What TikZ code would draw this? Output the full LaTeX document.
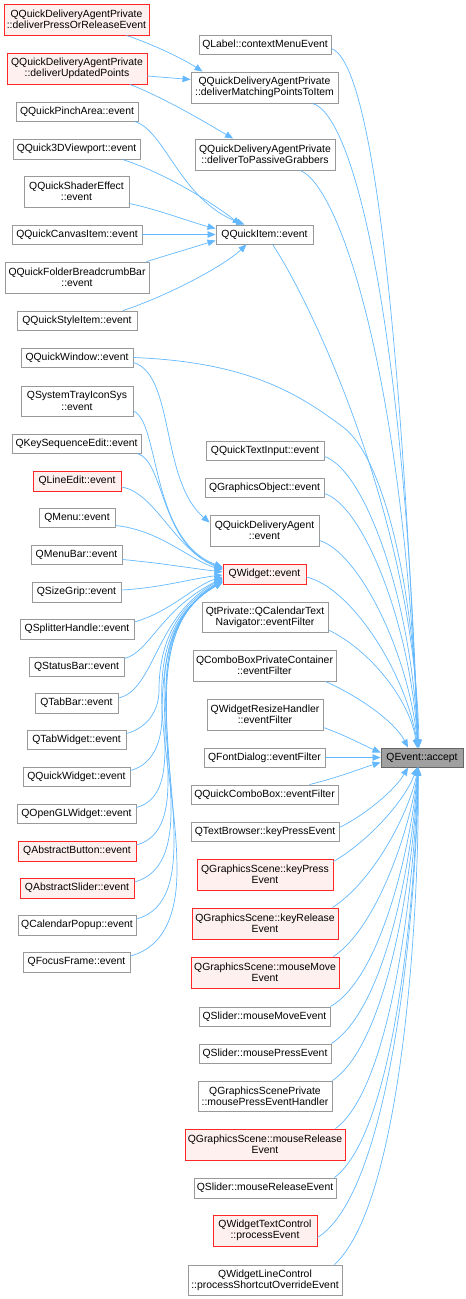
\documentclass[tikz,border=0pt]{standalone}
\usepackage{fontspec}
\setmainfont{Liberation Sans}
\usetikzlibrary{arrows.meta}
\definecolor{edgeblue}{HTML}{63B8FF}
\definecolor{bordergray}{HTML}{999999}
\definecolor{rootfill}{HTML}{A0A0A0}
\definecolor{rootborder}{HTML}{666666}
\definecolor{pinkfill}{HTML}{FFF0F0}
\tikzset{
  nbox/.style={draw=bordergray, fill=white, line width=0.9pt, inner sep=0pt, align=center,
    font=\fontsize{10.4}{11.3}\selectfont},
  rbox/.style={nbox, draw=red!85},
  rbox/.append style={fill=pinkfill},
  rootbox/.style={nbox, draw=rootborder, fill=rootfill},
  edge/.style={draw=edgeblue, line width=0.7pt, -{Triangle[length=8pt,width=6.5pt]}},
}
\newcommand\mynode[6]{\node[#1,text width=#4pt,minimum height=#5pt] (#2) at (#3) {#6};}
\begin{document}
\begin{tikzpicture}[x=1pt,y=1pt]
\useasboundingbox (0,0) rectangle (466,-1299);
\mynode{rbox}{prel}{76.5,-19.5}{145}{31}{QQuickDeliveryAgentPrivate\\::deliverPressOrReleaseEvent}
\mynode{nbox}{qlabel}{265,-44.5}{132}{19}{QLabel::contextMenuEvent}
\mynode{rbox}{upd}{77,-68.5}{140}{31}{QQuickDeliveryAgentPrivate\\::deliverUpdatedPoints}
\mynode{nbox}{match}{264.5,-87.5}{147}{31}{QQuickDeliveryAgentPrivate\\::deliverMatchingPointsToItem}
\mynode{nbox}{pinch}{77,-111.5}{122}{19}{QQuickPinchArea::event}
\mynode{nbox}{q3d}{76.5,-149}{127}{20}{QQuick3DViewport::event}
\mynode{nbox}{passive}{265,-154.5}{140}{31}{QQuickDeliveryAgentPrivate\\::deliverToPassiveGrabbers}
\mynode{nbox}{shader}{76.5,-191.5}{105}{31}{QQuickShaderEffect\\::event}
\mynode{nbox}{canvas}{77,-234.5}{130}{19}{QQuickCanvasItem::event}
\mynode{nbox}{qitem}{264.5,-234.5}{97}{19}{QQuickItem::event}
\mynode{nbox}{folder}{77,-277.5}{144}{31}{QQuickFolderBreadcrumbBar\\::event}
\mynode{nbox}{style}{77,-320.5}{120}{19}{QQuickStyleItem::event}
\mynode{nbox}{window}{77,-357.5}{112}{19}{QQuickWindow::event}
\mynode{nbox}{systray}{77,-401}{112}{30}{QSystemTrayIconSys\\::event}
\mynode{nbox}{keyseq}{76.5,-443.5}{129}{19}{QKeySequenceEdit::event}
\mynode{nbox}{textinput}{265,-450.5}{118}{19}{QQuickTextInput::event}
\mynode{rbox}{lineedit}{77,-481}{88}{20}{QLineEdit::event}
\mynode{nbox}{gobject}{264.5,-487.5}{119}{19}{QGraphicsObject::event}
\mynode{nbox}{menu}{77,-517.5}{76}{19}{QMenu::event}
\mynode{nbox}{dagent}{264.5,-530.5}{109}{31}{QQuickDeliveryAgent\\::event}
\mynode{nbox}{menubar}{76.5,-554.5}{91}{19}{QMenuBar::event}
\mynode{rbox}{qwidget}{264.5,-574}{83}{20}{QWidget::event}
\mynode{nbox}{sizegrip}{76.5,-592}{89}{20}{QSizeGrip::event}
\mynode{nbox}{calnav}{265,-617}{126}{30}{QtPrivate::QCalendarText\\Navigator::eventFilter}
\mynode{nbox}{splitter}{77,-629}{114}{20}{QSplitterHandle::event}
\mynode{nbox}{statusbar}{76.5,-666.5}{95}{19}{QStatusBar::event}
\mynode{nbox}{combopriv}{264.5,-665.5}{143}{31}{QComboBoxPrivateContainer\\::eventFilter}
\mynode{nbox}{tabbar}{76.5,-703}{83}{20}{QTabBar::event}
\mynode{nbox}{resize}{265,-714.5}{116}{31}{QWidgetResizeHandler\\::eventFilter}
\mynode{nbox}{tabwidget}{76.5,-739.5}{99}{19}{QTabWidget::event}
\mynode{nbox}{fontdlg}{264.5,-757.5}{121}{19}{QFontDialog::eventFilter}
\mynode{rootbox}{accept}{422,-757.5}{82}{19}{QEvent::accept}
\mynode{nbox}{quickwidget}{76.5,-776.5}{107}{19}{QQuickWidget::event}
\mynode{nbox}{qcombo}{264.5,-794.5}{147}{19}{QQuickComboBox::eventFilter}
\mynode{nbox}{opengl}{76.5,-813.5}{119}{19}{QOpenGLWidget::event}
\mynode{nbox}{textbrowser}{265,-831.5}{148}{19}{QTextBrowser::keyPressEvent}
\mynode{rbox}{absbutton}{77,-851}{118}{20}{QAbstractButton::event}
\mynode{rbox}{keypress}{265,-874.5}{136}{31}{QGraphicsScene::keyPress\\Event}
\mynode{rbox}{absslider}{77,-888}{114}{20}{QAbstractSlider::event}
\mynode{nbox}{calpopup}{77,-925}{118}{20}{QCalendarPopup::event}
\mynode{rbox}{keyrel}{265,-923.5}{146}{31}{QGraphicsScene::keyRelease\\Event}
\mynode{nbox}{focus}{76.5,-962}{107}{20}{QFocusFrame::event}
\mynode{rbox}{mousemove}{265,-972.5}{148}{31}{QGraphicsScene::mouseMove\\Event}
\mynode{nbox}{slmove}{264.5,-1016.5}{131}{19}{QSlider::mouseMoveEvent}
\mynode{nbox}{slpress}{265,-1053.5}{132}{19}{QSlider::mousePressEvent}
\mynode{nbox}{presshandler}{265,-1096}{134}{30}{QGraphicsScenePrivate\\::mousePressEventHandler}
\mynode{rbox}{mouserel}{265,-1144.5}{160}{31}{QGraphicsScene::mouseRelease\\Event}
\mynode{nbox}{slrel}{265,-1188}{142}{20}{QSlider::mouseReleaseEvent}
\mynode{rbox}{procevent}{265,-1230.5}{104}{31}{QWidgetTextControl\\::processEvent}
\mynode{nbox}{shortcut}{265,-1280}{154}{30}{QWidgetLineControl\\::processShortcutOverrideEvent}

% delivery agent private
\draw[edge] ([xshift=50pt]prel.south) .. controls (155,-45) and (185,-60) .. ([xshift=-62pt]match.north);
\draw[edge] ([yshift=-7.5pt]upd.east) -- ([yshift=8pt]match.west);
\draw[edge] ([xshift=53pt]upd.south) .. controls (165,-98) and (210,-125) .. ([xshift=-32pt]passive.north);

% into QQuickItem::event
\draw[edge] ([xshift=-4pt]pinch.south east) .. controls (165,-130) and (180,-200) .. ([xshift=-20pt]qitem.north);
\draw[edge] ([xshift=46pt]q3d.south) .. controls (170,-175) and (215,-205) .. ([xshift=-24pt]qitem.north);
\draw[edge] ([yshift=-12pt]shader.east) .. controls (160,-210) and (190,-222) .. ([yshift=6pt]qitem.west);
\draw[edge] (canvas.east) -- (qitem.west);
\draw[edge] ([xshift=-3pt]folder.north east) -- ([yshift=-6pt]qitem.west);
\draw[edge] ([xshift=46pt]style.north) .. controls (170,-295) and (225,-265) .. ([xshift=-18pt]qitem.south);

% QQuickWindow -> QQuickDeliveryAgent
\draw[edge] ([yshift=-5pt]window.east) .. controls (175,-375) and (160,-480) .. ([yshift=8pt]dagent.west);

% into QWidget::event
\draw[edge] ([yshift=-10pt]systray.east) .. controls (160,-422) and (150,-540) .. ([yshift=7pt]qwidget.west);
\draw[edge] ([xshift=-4pt]keyseq.south east) .. controls (165,-462) and (160,-545) .. ([yshift=6pt]qwidget.west);
\draw[edge] ([yshift=-6pt]lineedit.east) .. controls (155,-492) and (175,-550) .. ([yshift=5pt]qwidget.west);
\draw[edge] ([yshift=-8pt]menu.east) .. controls (160,-530) and (190,-560) .. ([yshift=4pt]qwidget.west);
\draw[edge] ([yshift=-5pt]menubar.east) .. controls (160,-563) and (190,-568) .. ([yshift=2pt]qwidget.west);
\draw[edge] ([yshift=2pt]sizegrip.east) .. controls (160,-588) and (195,-578) .. ([yshift=-1pt]qwidget.west);
\draw[edge] ([yshift=7pt]splitter.east) .. controls (170,-612) and (195,-585) .. ([yshift=-3pt]qwidget.west);
\draw[edge] ([yshift=8pt]statusbar.east) .. controls (150,-652) and (160,-610) .. ([yshift=-4pt]qwidget.west);
\draw[edge] ([yshift=5pt]tabbar.east) .. controls (155,-690) and (155,-615) .. ([yshift=-5pt]qwidget.west);
\draw[edge] ([yshift=6pt]tabwidget.east) to[out=15,in=-90] (159,-690) to[out=90,in=210] ([yshift=-6pt]qwidget.west);
\draw[edge] ([yshift=6pt]quickwidget.east) to[out=15,in=-90] (162,-715) to[out=90,in=210] ([yshift=-7pt]qwidget.west);
\draw[edge] ([yshift=6pt]opengl.east) to[out=15,in=-90] (165,-745) to[out=90,in=210] ([yshift=-7pt]qwidget.west);
\draw[edge] ([yshift=6pt]absbutton.east) to[out=15,in=-90] (168,-780) to[out=90,in=210] ([yshift=-8pt]qwidget.west);
\draw[edge] ([yshift=6pt]absslider.east) to[out=15,in=-90] (171,-810) to[out=90,in=210] ([yshift=-8pt]qwidget.west);
\draw[edge] ([yshift=6pt]calpopup.east) to[out=15,in=-90] (174,-840) to[out=90,in=210] ([yshift=-8pt]qwidget.west);
\draw[edge] ([yshift=6pt]focus.east) to[out=15,in=-90] (177,-870) to[out=90,in=210] ([yshift=-8pt]qwidget.west);

% into QEvent::accept from above
\draw[edge] ([yshift=-4pt]qlabel.east) .. controls (370,-62) and (400,-300) .. ([xshift=-4pt]accept.north);
\draw[edge] ([xshift=48pt]match.south) .. controls (355,-115) and (405,-330) .. ([xshift=-4pt]accept.north);
\draw[edge] ([xshift=35pt]passive.south) .. controls (340,-185) and (405,-380) .. ([xshift=-4pt]accept.north);
\draw[edge] ([xshift=8pt]qitem.south) .. controls (310,-300) and (415,-520) .. ([xshift=-3pt]accept.north);
\draw[edge] (window.east) .. controls (250,-362) and (300,-395) .. (343,-427) .. controls (386,-459) and (416,-600) .. ([xshift=-4pt]accept.north);
\draw[edge] ([yshift=-6pt]textinput.east) .. controls (365,-470) and (412,-600) .. ([xshift=-4pt]accept.north);
\draw[edge] ([yshift=-6pt]gobject.east) .. controls (362,-505) and (410,-620) .. ([xshift=-4pt]accept.north);
\draw[edge] ([yshift=-10pt]dagent.east) .. controls (358,-552) and (408,-650) .. ([xshift=-4pt]accept.north);
\draw[edge] ([yshift=-3pt]qwidget.east) .. controls (350,-587) and (405,-670) .. ([xshift=-4pt]accept.north);
\draw[edge] ([yshift=-13pt]calnav.east) .. controls (370,-650) and (410,-700) .. ([xshift=-5pt]accept.north);
\draw[edge] ([xshift=61pt]combopriv.south) .. controls (360,-697) and (395,-722) .. ([xshift=-14pt]accept.north);
\draw[edge] ([yshift=-13pt]resize.east) .. controls (345,-735) and (365,-746) .. ([yshift=5pt]accept.west);
\draw[edge] (fontdlg.east) -- (accept.west);
\draw[edge] ([xshift=45pt]qcombo.north) .. controls (340,-777) and (365,-767) .. ([yshift=-5pt]accept.west);
\draw[edge] ([yshift=4pt]textbrowser.east) .. controls (365,-815) and (395,-790) .. ([xshift=-14pt]accept.south);

% into QEvent::accept from below
\draw[edge] ([yshift=-3pt]keypress.north east) .. controls (370,-840) and (405,-800) .. ([xshift=-5pt]accept.south);
\draw[edge] ([xshift=-6pt]keyrel.north east) .. controls (375,-880) and (410,-810) .. ([xshift=-4pt]accept.south);
\draw[edge] ([xshift=-6pt]mousemove.north east) .. controls (380,-925) and (412,-820) .. ([xshift=-4pt]accept.south);
\draw[edge] (slmove.north east) .. controls (385,-975) and (413,-830) .. ([xshift=-4pt]accept.south);
\draw[edge] (slpress.north east) .. controls (390,-1005) and (414,-840) .. ([xshift=-4pt]accept.south);
\draw[edge] (presshandler.north east) .. controls (392,-1040) and (415,-850) .. ([xshift=-4pt]accept.south);
\draw[edge] ([xshift=-10pt]mouserel.north east) .. controls (395,-1085) and (416,-860) .. ([xshift=-4pt]accept.south);
\draw[edge] ([xshift=-2pt]slrel.north east) .. controls (398,-1130) and (417,-870) .. ([xshift=-4pt]accept.south);
\draw[edge] ([yshift=-7pt]procevent.east) .. controls (395,-1190) and (418,-880) .. ([xshift=-4pt]accept.south);
\draw[edge] ([xshift=-8pt]shortcut.north east) .. controls (405,-1200) and (420,-890) .. ([xshift=-4pt]accept.south);
\end{tikzpicture}
\end{document}
